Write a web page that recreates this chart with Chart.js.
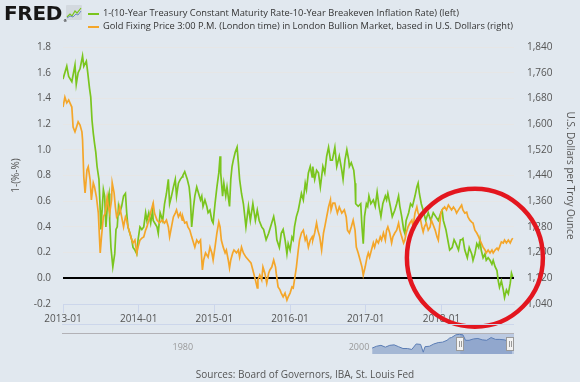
<!DOCTYPE html>
<html>
<head>
<meta charset="utf-8">
<script src="https://cdn.jsdelivr.net/npm/chart.js@4.4.1/dist/chart.umd.min.js"></script>
<style>
  body { margin: 0; background: #e1e8ef; font-family: "Open Sans", sans-serif; }
  #wrap { position: relative; width: 580px; height: 382px; overflow: hidden; }
  #chart { position: absolute; left: 0; top: 0; }
  #nav { position: absolute; left: 62px; top: 333px; }
  .logo { position: absolute; left: 4px; top: 1px; font: bold 20px "DejaVu Sans", sans-serif; color: #161616; letter-spacing: -0.3px; }
  .logo sup { font-size: 4px; vertical-align: -2px; margin-left: 1px; }
  .icon { position: absolute; left: 66px; top: 5px; }
  .legend { position: absolute; left: 88px; top: 6px; font-size: 9.3px; line-height: 13px; color: #333; white-space: nowrap; }
  .legend i { display: inline-block; width: 11px; height: 2px; vertical-align: middle; margin-right: 4px; }
  .axisline { position: absolute; left: 62px; top: 324px; width: 452px; height: 1px; background: #ccd6eb; }
  .src { position: absolute; left: 305px; top: 367px; transform: translateX(-50%); font-size: 10px; color: #555; white-space: nowrap; }
</style>
</head>
<body>
<div id="wrap">
  <canvas id="chart" width="580" height="382"></canvas>
  <div class="logo">FRED<sup>®</sup></div>
  <svg class="icon" width="16" height="15" viewBox="0 0 16 15">
    <rect x="0" y="0" width="16" height="15" rx="1" fill="#d3d9df"/>
    <polyline points="1,12 4,9 6,11 9,6 11,8 15,3" fill="none" stroke="#7ac51e" stroke-width="1.2"/>
    <polyline points="1,13 4,11 7,12 10,9 12,10 15,6" fill="none" stroke="#6f8fbf" stroke-width="1"/>
  </svg>
  <div class="legend">
    <div><i style="background:#7ac51e"></i>1-(10-Year Treasury Constant Maturity Rate-10-Year Breakeven Inflation Rate) (left)</div>
    <div><i style="background:#f4a62a"></i>Gold Fixing Price 3:00 P.M. (London time) in London Bullion Market, based in U.S. Dollars (right)</div>
  </div>
  <div class="axisline"></div>
  <canvas id="nav" width="452" height="21"></canvas>
  <div class="src">Sources: Board of Governors, IBA, St. Louis Fed</div>
</div>
<script>
// Eixo X em meses desde 2013-01
const xTickLabels = ["2013-01", "2014-01", "2015-01", "2016-01", "2017-01", "2018-01"];

// 1-(10Y - breakeven), eixo esquerdo
const greenMonths = [0.0, 0.6, 0.9, 1.4, 1.9, 2.1, 2.4, 2.7, 3.1, 3.3, 3.7, 3.9, 4.2, 4.4, 4.6, 4.8, 5.0, 5.2, 5.4, 5.7,
  5.9, 6.0, 6.2, 6.4, 6.6, 6.8, 7.1, 7.3, 7.4, 7.6, 7.9, 8.2, 8.4, 8.6, 8.8, 9.0, 9.3, 9.6, 9.9, 10.1,
  10.3, 10.6, 10.9, 11.1, 11.4, 11.7, 11.9, 12.2, 12.5, 12.8, 13.1, 13.3, 13.6, 13.9, 14.2, 14.3, 14.9, 15.1, 15.4, 15.8,
  16.1, 16.4, 16.7, 16.9, 17.2, 17.5, 17.8, 18.0, 18.3, 18.6, 18.9, 19.0, 19.3, 19.7, 20.0, 20.2, 20.4, 20.7, 20.9, 21.2,
  21.5, 21.8, 22.0, 22.2, 22.5, 22.8, 23.0, 23.3, 23.6, 23.8, 24.1, 24.4, 24.7, 24.9, 25.0, 25.3, 25.5, 25.8, 26.0, 26.4,
  26.6, 26.8, 27.0, 27.3, 27.6, 27.8, 28.0, 28.3, 28.6, 29.0, 29.4, 29.7, 30.1, 30.5, 30.8, 31.1, 31.5, 31.8, 32.2, 32.6,
  32.9, 33.4, 33.7, 33.9, 34.3, 34.6, 34.9, 35.2, 35.5, 35.7, 36.0, 36.3, 36.5, 36.7, 37.0, 37.3, 37.5, 37.8, 38.1, 38.4,
  38.6, 38.9, 39.2, 39.5, 39.6, 39.9, 40.2, 40.5, 40.8, 41.2, 41.5, 41.8, 42.1, 42.4, 42.7, 43.1, 43.4, 43.8, 44.2, 44.4,
  44.7, 45.0, 45.3, 45.4, 45.7, 46.1, 46.3, 46.4, 46.8, 47.2, 47.4, 47.6, 47.8, 48.1, 48.3, 48.5, 48.8, 49.2, 49.5, 49.8,
  50.1, 50.4, 50.7, 51.1, 51.3, 51.5, 51.9, 52.2, 52.6, 52.9, 53.2, 53.4, 53.7, 54.0, 54.2, 54.4, 54.8, 55.1, 55.4, 55.8,
  56.1, 56.3, 56.5, 56.8, 57.1, 57.5, 57.9, 58.3, 58.7, 59.1, 59.5, 59.9, 60.1, 60.3, 60.7, 61.0, 61.3, 61.7, 62.0, 62.3,
  62.7, 63.0, 63.2, 63.4, 63.7, 64.1, 64.4, 64.8, 65.0, 65.3, 65.6, 65.9, 66.1, 66.3, 66.6, 66.9, 67.1, 67.4, 67.7, 68.0,
  68.2, 68.5, 68.8, 69.0, 69.2, 69.5, 69.8, 70.0, 70.3, 70.6, 70.9, 71.1, 71.3];
const greenValues = [1.55, 1.65, 1.57, 1.53, 1.66, 1.51, 1.60, 1.63, 1.73, 1.65, 1.69, 1.61, 1.48, 1.41, 1.23, 1.13, 1.05, 0.98, 0.87, 0.77,
  0.53, 0.38, 0.53, 0.69, 0.64, 0.40, 0.61, 0.66, 0.45, 0.24, 0.09, 0.19, 0.38, 0.40, 0.56, 0.51, 0.56, 0.64, 0.66, 0.51,
  0.40, 0.35, 0.30, 0.24, 0.22, 0.19, 0.30, 0.40, 0.38, 0.40, 0.51, 0.45, 0.51, 0.43, 0.53, 0.45, 0.40, 0.35, 0.51, 0.45,
  0.58, 0.66, 0.77, 0.58, 0.64, 0.71, 0.77, 0.64, 0.74, 0.77, 0.79, 0.80, 0.83, 0.77, 0.71, 0.61, 0.40, 0.56, 0.64, 0.71,
  0.66, 0.61, 0.64, 0.56, 0.61, 0.56, 0.51, 0.53, 0.45, 0.43, 0.58, 0.71, 0.82, 0.95, 0.82, 0.64, 0.74, 0.64, 0.71, 0.56,
  0.77, 0.87, 0.92, 0.98, 1.02, 0.90, 0.77, 0.66, 0.58, 0.40, 0.56, 0.45, 0.58, 0.45, 0.53, 0.45, 0.40, 0.38, 0.30, 0.35,
  0.40, 0.48, 0.40, 0.30, 0.24, 0.35, 0.38, 0.30, 0.19, 0.27, 0.22, 0.32, 0.30, 0.40, 0.48, 0.53, 0.58, 0.66, 0.61, 0.74,
  0.69, 0.82, 0.87, 0.79, 0.87, 0.77, 0.84, 0.82, 0.71, 0.87, 0.82, 0.95, 1.02, 0.92, 0.92, 1.02, 0.87, 0.95, 0.84, 0.77,
  0.92, 1.00, 0.92, 0.87, 0.90, 0.84, 0.74, 0.58, 0.56, 0.58, 0.40, 0.27, 0.48, 0.58, 0.56, 0.64, 0.58, 0.61, 0.56, 0.67,
  0.56, 0.48, 0.58, 0.64, 0.61, 0.66, 0.56, 0.48, 0.53, 0.58, 0.64, 0.56, 0.48, 0.38, 0.35, 0.45, 0.51, 0.58, 0.56, 0.64,
  0.71, 0.74, 0.66, 0.58, 0.53, 0.45, 0.51, 0.45, 0.51, 0.48, 0.45, 0.51, 0.53, 0.45, 0.38, 0.30, 0.22, 0.24, 0.30, 0.27,
  0.22, 0.30, 0.30, 0.31, 0.22, 0.16, 0.24, 0.19, 0.14, 0.19, 0.27, 0.24, 0.30, 0.22, 0.16, 0.19, 0.14, 0.16, 0.14, 0.11,
  0.14, 0.09, 0.06, -0.02, -0.07, -0.02, -0.09, -0.15, -0.09, -0.12, -0.04, 0.04, 0.01];

// Ouro em US$/onça, eixo direito
const goldMonths = [0.0, 0.3, 0.6, 0.9, 1.1, 1.4, 1.6, 1.9, 2.1, 2.4, 2.7, 3.0, 3.1, 3.3, 3.5, 3.8, 4.0, 4.3, 4.5, 4.8,
  5.0, 5.3, 5.6, 5.8, 5.9, 6.1, 6.4, 6.7, 7.0, 7.2, 7.4, 7.7, 7.8, 8.1, 8.3, 8.5, 8.8, 9.0, 9.3, 9.6,
  9.9, 10.1, 10.3, 10.6, 10.9, 11.1, 11.4, 11.7, 11.9, 12.2, 12.5, 12.8, 13.1, 13.3, 13.6, 14.0, 14.3,
  14.5, 14.9, 15.3, 15.7, 16.1, 16.4, 16.7, 16.9, 17.2, 17.5, 17.8, 18.0, 18.3, 18.6, 18.9, 19.0, 19.3, 19.6, 19.8, 20.1,
  20.4, 20.7, 20.9, 21.2, 21.5, 21.8, 22.0, 22.1, 22.3, 22.6, 23.0, 23.3, 23.6, 23.8, 24.1, 24.4, 24.7, 24.9, 25.1, 25.4,
  25.7, 25.9, 26.2, 26.4, 26.6, 26.9, 27.1, 27.5, 27.8, 28.0, 28.3, 28.6,
  29.0, 29.4, 29.8, 30.1, 30.5, 30.8, 30.9, 31.2, 31.5, 31.7, 32.0, 32.3, 32.6, 32.8, 33.1, 33.4, 33.7, 33.8, 34.1, 34.4,
  34.6, 34.9, 35.2, 35.5, 35.7, 36.0, 36.3, 36.5, 36.7, 37.0, 37.3, 37.5, 37.8, 38.1, 38.4, 38.6, 38.9, 39.2, 39.5, 39.6,
  39.9, 40.2, 40.4, 40.7, 41.0, 41.3, 41.5, 41.8, 42.1, 42.4, 42.5, 42.8,
  43.1, 43.5, 43.8, 44.2, 44.6, 44.9, 45.1, 45.4, 45.7, 46.0, 46.3, 46.5, 46.8, 47.1, 47.4, 47.6, 47.9, 48.2, 48.4, 48.6,
  48.9, 49.2, 49.4, 49.7, 50.0, 50.3, 50.5, 50.8, 51.1, 51.3, 51.5, 51.8, 52.1, 52.3, 52.6, 52.9, 53.2, 53.4, 53.7, 54.0,
  54.2, 54.4, 54.7, 55.0, 55.3, 55.5, 55.8, 56.1, 56.3, 56.6, 56.9,
  57.1, 57.3, 57.6, 57.9, 58.2, 58.4, 58.7, 59.0, 59.3, 59.5, 59.7, 59.9, 60.1, 60.5, 60.8, 61.1, 61.3, 61.6, 61.9, 62.2,
  62.4, 62.7, 63.0, 63.2, 63.4, 63.7, 64.0, 64.2, 64.5, 64.8, 65.0, 65.3, 65.6, 65.9, 66.1, 66.3, 66.6, 66.9, 67.1, 67.4,
  67.7, 68.0, 68.2, 68.5, 68.8, 69.0, 69.2, 69.5, 69.8, 70.0, 70.3, 70.6, 70.9, 71.1, 71.3];
const goldValues = [1653, 1684, 1666, 1675, 1666, 1653, 1591, 1576, 1588, 1607, 1597, 1576, 1551, 1435, 1386, 1457, 1467, 1426, 1364, 1417,
  1404, 1373, 1323, 1239, 1199, 1249, 1311, 1323, 1373, 1342, 1323, 1364, 1417, 1386, 1342, 1311, 1323, 1342, 1311, 1280,
  1311, 1301, 1280, 1261, 1239, 1230, 1239, 1199, 1217, 1239, 1245, 1249, 1270, 1280, 1301, 1333, 1354,
  1323, 1301, 1292, 1301, 1292, 1301, 1280, 1249, 1280, 1311, 1323, 1333, 1311, 1323, 1301, 1311, 1292, 1295, 1280, 1270,
  1249, 1230, 1217, 1239, 1230, 1239, 1177, 1146, 1177, 1199, 1186, 1217, 1199, 1177, 1217, 1261, 1295, 1280, 1239, 1217,
  1199, 1208, 1177, 1152, 1177, 1199, 1208, 1199, 1208, 1186, 1217, 1199,
  1186, 1177, 1168, 1146, 1115, 1090, 1115, 1130, 1115, 1155, 1136, 1105, 1136, 1146, 1155, 1177, 1155, 1136, 1093, 1084,
  1074, 1062, 1074, 1052, 1062, 1074, 1093, 1090, 1115, 1155, 1208, 1239, 1261, 1270, 1239, 1249, 1217, 1239, 1249, 1239,
  1261, 1292, 1270, 1249, 1208, 1261, 1280, 1311, 1342, 1364, 1333, 1354,
  1354, 1323, 1342, 1323, 1333, 1311, 1270, 1261, 1280, 1301, 1270, 1217, 1199, 1177, 1155, 1130, 1155, 1186, 1199, 1186,
  1208, 1230, 1217, 1239, 1230, 1249, 1239, 1261, 1239, 1270, 1280, 1261, 1230, 1249, 1261, 1270, 1292, 1270, 1249, 1230,
  1239, 1261, 1280, 1292, 1301, 1280, 1323, 1342, 1323, 1311, 1280,
  1264, 1280, 1292, 1270, 1280, 1301, 1286, 1270, 1249, 1239, 1280, 1323, 1333, 1342, 1333, 1348, 1342, 1333, 1342, 1333,
  1323, 1333, 1342, 1348, 1333, 1323, 1326, 1311, 1301, 1295, 1292, 1270, 1261, 1249, 1239, 1230, 1217, 1208, 1199, 1208,
  1199, 1208, 1199, 1208, 1214, 1208, 1217, 1233, 1230, 1239, 1230, 1239, 1230, 1239, 1245];

// Navegador (série longa, anos)
const navYears = [2003.0, 2003.5, 2004.0, 2004.5, 2005.0, 2005.5, 2006.0, 2006.5, 2007.0, 2007.5, 2008.0, 2008.5, 2008.8,
  2009.0, 2009.5, 2010.0, 2010.5, 2011.0, 2011.5, 2011.8, 2012.0, 2012.5, 2012.9, 2013.3, 2013.6, 2014.0, 2014.5,
  2015.0, 2015.5, 2016.0, 2016.5, 2017.0, 2017.5, 2018.0, 2018.5, 2018.9];
const navValues = [-1.3, -0.9, -0.7, -1.1, -0.7, -0.6, -1.0, -1.4, -1.4, -1.6, -0.4, -0.5, -2.2,
  -1.0, -0.9, -0.4, -0.1, 0.0, 0.4, 0.9, 1.0, 1.6, 1.7, 1.6, 0.4, 0.4, 0.7,
  0.8, 0.5, 0.4, 1.0, 0.6, 0.6, 0.5, 0.2, 0.0];
const navLabels = ["1980", "2000"];

const toPoints = (xs, ys) => xs.map((x, i) => ({ x: x, y: ys[i] }));

const tickFont = { family: "Open Sans", size: 10 };
const tickColor = "#555";

// Círculo vermelho desenhado à mão, ancorado nas escalas
const circlePlugin = {
    id: "circle",
    afterDraw(chart) {
        const ctx = chart.ctx;
        const cx = chart.scales.x.getPixelForValue(65.3);
        const cy = chart.scales.y.getPixelForValue(0.16);
        ctx.save();
        ctx.strokeStyle = "#e3161f";
        ctx.lineWidth = 4.5;
        ctx.beginPath();
        ctx.ellipse(cx, cy, 68, 69, 0, 0, Math.PI * 2);
        ctx.stroke();
        ctx.restore();
    }
};

const mainConfig = {
    type: "line",
    data: {
        datasets: [{
            label: "1-(10-Year Treasury Constant Maturity Rate-10-Year Breakeven Inflation Rate) (left)",
            data: toPoints(greenMonths, greenValues),
            borderColor: "#7ac51e",
            borderWidth: 1.7,
            pointRadius: 0,
            yAxisID: "y",
            order: 1
        }, {
            label: "Gold Fixing Price 3:00 P.M. (London time) in London Bullion Market, based in U.S. Dollars (right)",
            data: toPoints(goldMonths, goldValues),
            borderColor: "#f4a62a",
            borderWidth: 1.7,
            pointRadius: 0,
            yAxisID: "y1",
            order: 0
        }]
    },
    options: {
        responsive: false,
        animation: false,
        layout: { padding: { top: 47, left: 0, right: 0, bottom: 0 } },
        plugins: { legend: { display: false }, tooltip: { enabled: false } },
        scales: {
            x: {
                type: "linear",
                min: 0,
                max: 71.5,
                afterFit: (s) => { s.height = 78; },
                ticks: {
                    stepSize: 12,
                    includeBounds: false,
                    autoSkip: false,
                    maxRotation: 0,
                    padding: 0,
                    font: tickFont,
                    color: tickColor,
                    callback: (v) => xTickLabels[v / 12]
                },
                grid: { drawOnChartArea: false, tickLength: 9, color: "#ccd6eb" },
                border: { color: "#ccd6eb" }
            },
            y: {
                position: "left",
                min: -0.2,
                max: 1.8,
                afterFit: (s) => { s.width = 63; },
                ticks: { stepSize: 0.2, padding: 12, font: tickFont, color: tickColor, callback: (v) => v.toFixed(1) },
                grid: {
                    drawTicks: false,
                    color: (c) => Math.abs(c.tick.value) < 1e-9 ? "#000" : "#e6e6e6",
                    lineWidth: (c) => Math.abs(c.tick.value) < 1e-9 ? 2 : 1
                },
                border: { display: false },
                title: { display: true, text: "1-(%-%)", font: tickFont, color: tickColor, padding: { top: 10, bottom: 0 } }
            },
            y1: {
                position: "right",
                min: 1040,
                max: 1840,
                afterFit: (s) => { s.width = 66; },
                ticks: { stepSize: 80, padding: 13, font: tickFont, color: tickColor, callback: (v) => v.toLocaleString("en-US") },
                grid: { drawOnChartArea: false, drawTicks: false },
                border: { display: false },
                title: { display: true, text: "U.S. Dollars per Troy Ounce", font: tickFont, color: tickColor, padding: { top: 4, bottom: 0 } }
            }
        }
    },
    plugins: [circlePlugin]
};

const mainChart = new Chart(document.getElementById("chart"), mainConfig);

// Navegador: máscara da janela selecionada, rótulos de ano e alças
const navSelStart = 2013.0;
const navPlugin = {
    id: "navmask",
    beforeDatasetsDraw(chart) {
        const ctx = chart.ctx;
        const x0 = chart.scales.x.getPixelForValue(navSelStart);
        const x1 = chart.chartArea.right;
        ctx.save();
        ctx.fillStyle = "rgba(102,133,194,0.3)";
        ctx.fillRect(x0, 0, x1 - x0, chart.height);
        ctx.strokeStyle = "#b2b1b6";
        ctx.lineWidth = 1;
        ctx.beginPath();
        ctx.moveTo(0, 0.5);
        ctx.lineTo(chart.width, 0.5);
        ctx.stroke();
        // rótulos de ano do navegador
        ctx.fillStyle = "#999";
        ctx.font = "9px 'Open Sans'";
        ctx.textAlign = "left";
        ctx.textBaseline = "middle";
        navLabels.forEach((lab) => {
            ctx.fillText(lab, chart.scales.x.getPixelForValue(Number(lab)) + 3, 14);
        });
        ctx.restore();
    },
    afterDraw(chart) {
        const ctx = chart.ctx;
        const xs = [chart.scales.x.getPixelForValue(navSelStart), chart.chartArea.right - 4];
        ctx.save();
        xs.forEach((x) => {
            ctx.fillStyle = "#f2f2f2";
            ctx.strokeStyle = "#999";
            ctx.lineWidth = 1;
            ctx.fillRect(Math.round(x) - 3.5, 4.5, 7, 13);
            ctx.strokeRect(Math.round(x) - 3.5, 4.5, 7, 13);
            ctx.beginPath();
            ctx.moveTo(Math.round(x) - 0.5, 8);
            ctx.lineTo(Math.round(x) - 0.5, 14);
            ctx.moveTo(Math.round(x) + 1.5, 8);
            ctx.lineTo(Math.round(x) + 1.5, 14);
            ctx.stroke();
        });
        ctx.restore();
    }
};

const navChart = new Chart(document.getElementById("nav"), {
    type: "line",
    data: {
        datasets: [{
            data: toPoints(navYears, navValues),
            borderColor: "#5a7cb4",
            borderWidth: 1,
            backgroundColor: "rgba(90,124,180,0.45)",
            fill: "start",
            pointRadius: 0
        }]
    },
    options: {
        responsive: false,
        animation: false,
        layout: { padding: 0 },
        plugins: { legend: { display: false }, tooltip: { enabled: false } },
        scales: {
            x: { type: "linear", display: false, min: 1967.8, max: 2019.1 },
            y: { display: false, min: -2.6, max: 2.0 }
        }
    },
    plugins: [navPlugin]
});
</script>
</body>
</html>
